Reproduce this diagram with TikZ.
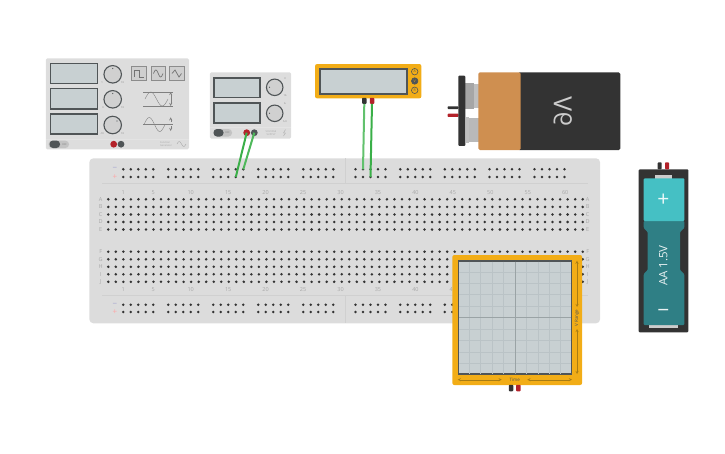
\documentclass[tikz,border=0pt]{standalone}
\usepackage{fontspec}
\setmainfont{Open Sans}
\definecolor{boardgrey}{HTML}{DCDCDC}
\definecolor{boardline}{HTML}{D0D0D0}
\definecolor{labelgrey}{HTML}{A8A8A8}
\definecolor{panelgrey}{HTML}{DDDDDD}
\definecolor{screengrey}{HTML}{C8D0D2}
\definecolor{framedark}{HTML}{505557}
\definecolor{meterorange}{HTML}{F2AD17}
\definecolor{scopeink}{HTML}{A87C14}
\definecolor{gridgrey}{HTML}{BAC3C6}
\definecolor{gridcentre}{HTML}{9AA3A5}
\definecolor{wiregreen}{HTML}{3AAF48}
\definecolor{wirelight}{HTML}{62C16D}
\definecolor{leadred}{HTML}{B3222A}
\definecolor{darkbody}{HTML}{333333}
\definecolor{copper}{HTML}{CF8F50}
\definecolor{cellbright}{HTML}{45C0C4}
\definecolor{celldark}{HTML}{2F7F85}
\tikzstyle{every node}=[inner sep=0pt,outer sep=0pt]
\tikzstyle{hole}=[circle,fill=darkbody,minimum size=2.8pt]
\tikzstyle{boardlabel}=[text=labelgrey,font=\fontsize{5.5}{5.5}\selectfont]
\tikzstyle{panel}=[rectangle,fill=panelgrey,rounded corners=1.5pt]
\tikzstyle{screen}=[draw=framedark,%
                    fill=screengrey,%
                    rectangle,%
                    line width=1.6pt]
\tikzstyle{knob}=[draw=framedark,fill=boardline,circle,line width=1.1pt,minimum size=17.5pt]
\tikzstyle{wavebutton}=[draw=gray!90,fill=gray!38,rectangle,minimum size=14.5pt,line width=.6pt]
\tikzstyle{wave}=[draw=gray!90!black,line width=.7pt]
\tikzstyle{thin wave}=[draw=gray,line width=.4pt]
\tikzstyle{tinylabel}=[text=gray,font=\fontsize{2.5}{3}\selectfont]
\tikzstyle{terminal}=[circle,minimum size=6.8pt]
\tikzstyle{lead}=[rectangle,rounded corners=.8pt,minimum width=4.5pt,minimum height=6pt]
\tikzstyle{wire}=[draw=wiregreen,line width=2pt]
\tikzstyle{orangebody}=[rectangle,fill=meterorange,rounded corners=2pt]
\tikzstyle{meterbutton}=[circle,draw=framedark,line width=.6pt,minimum size=6.5pt,font=\fontsize{3.5}{4}\selectfont]
\tikzstyle{scopeaxis}=[draw=scopeink,line width=.4pt,<->,>=stealth]
\begin{document}
\begin{tikzpicture}[x=1pt,y=-1pt]
  \useasboundingbox (0,0) rectangle (725,453);
  % breadboard
  \node[rectangle,fill=boardgrey,rounded corners=4pt,minimum width=510.7pt,minimum height=165pt] (board) at (344.7,240.8) {};
  \draw[boardline] (102,183.3) -- (588,183.3);
  \draw[boardline] (102,295.3) -- (588,295.3);
  \draw[boardline] (345,158.3) -- (345,183.3);
  \draw[boardline] (345,295.3) -- (345,323.3);
  \foreach \lab/\yy in {A/199.3,B/206.9,C/214.5,D/222,E/229.5,F/251.7,G/259.3,H/266.8,I/274.3,J/281.8}{
    \node[boardlabel] at (100.7,\yy) {\lab};
    \node[boardlabel] at (587.7,\yy) {\lab};
    \foreach \c in {0,...,63}
      \node[hole] at (108.3+\c*7.53,\yy) {};
  }
  \foreach \n in {1,5,10,15,20,25,30,35,40,45,50,55,60}{
    \node[boardlabel] at (115.8+\n*7.49,192.7) {\n};
    \node[boardlabel] at (115.8+\n*7.49,290) {\n};
  }
  \foreach \gx [count=\g] in {123.3,168.3,213.3,258.3,303.3,355.5,400.3,444.8,489.5,534.5}
    \foreach \i in {0,...,4}{
      \node[hole] (railtopa-\g-\i) at (\gx+\i*7.5,169.3) {};
      \node[hole] (railtopb-\g-\i) at (\gx+\i*7.5,177) {};
      \node[hole] (railbota-\g-\i) at (\gx+\i*7.5,304.7) {};
      \node[hole] (railbotb-\g-\i) at (\gx+\i*7.5,312) {};
    }
  \node[text=blue!25!labelgrey!70!white,font=\fontsize{8}{8}\selectfont] at (115,169.3) {−};
  \node[text=red!35!white,font=\fontsize{8}{8}\selectfont] at (115,177) {+};
  \node[text=blue!25!labelgrey!70!white,font=\fontsize{8}{8}\selectfont] at (115,304.7) {−};
  \node[text=red!35!white,font=\fontsize{8}{8}\selectfont] at (115,312) {+};
  % function generator
  \node[panel,minimum width=143.3pt,minimum height=91pt] (gen) at (117.4,103.8) {};
  \draw[boardline!60!white] (46,139) -- (189,139);
  \node[screen,minimum width=47pt,minimum height=20.3pt] (genscreena) at (74,73.5) {};
  \node[screen,minimum width=47pt,minimum height=20.3pt] (genscreenb) at (74,98.8) {};
  \node[screen,minimum width=47pt,minimum height=20.3pt] (genscreenc) at (74,124) {};
  \node[knob] (genknoba) at (112.7,74.3) {};
  \node[knob] (genknobb) at (112.7,99.3) {};
  \node[knob] (genknobc) at (112.7,125) {};
  \fill[framedark] (112.7,68.5) circle (.6);
  \fill[framedark] (112.7,93.5) circle (.6);
  \fill[framedark] (117,121) circle (.6);
  \node[tinylabel] at (102,82.5) {1};
  \node[tinylabel] at (122.5,82.5) {10};
  \node[tinylabel] at (103,107.5) {0};
  \node[tinylabel] at (122.5,107.5) {10};
  \node[tinylabel] at (102,133.5) {-10};
  \node[tinylabel] at (122.5,133.5) {10};
  \node[wavebutton] (btnsquare) at (139,73.5) {};
  \node[wavebutton] (btnsine) at (158.3,73.5) {};
  \node[wavebutton] (btntri) at (176.7,73.5) {};
  \draw[wave] (134.5,76.5) -- (134.5,70) -- (139,70) -- (139,77) -- (143.5,77);
  \draw[wave] plot[smooth,domain=0:360,samples=17] ({153.5+\x/360*9.5},{73.5-sin(\x)*3.5});
  \draw[wave] (172,73.5) -- (175,70) -- (179,77) -- (181.5,73.5);
  \draw[thin wave] (143.3,91.7) -- (173.3,91.7);
  \draw[thin wave] (143.3,106) -- (173.3,106);
  \draw[thin wave] plot[smooth,domain=0:360,samples=25] ({145+\x/360*23},{99-sin(\x)*7});
  \draw[thin wave,<->,>=stealth] (170.7,92) -- (170.7,106);
  \draw[thin wave] (143.3,124) -- (173,124);
  \draw[thin wave] plot[smooth,domain=0:360,samples=25] ({144+\x/360*21},{124.5-sin(\x)*7});
  \draw[thin wave,->,>=stealth] (170.7,122) -- (170.7,117.3);
  \draw[thin wave,->,>=stealth] (170.7,126) -- (170.7,131);
  \fill[labelgrey!50!panelgrey,rounded corners=3.5pt] (48.5,140.7) rectangle (69,148);
  \fill[framedark,rounded corners=3.5pt] (49.5,140.5) rectangle (60,148);
  \node[tinylabel] at (64.5,144.3) {OFF};
  \node[terminal,fill=leadred] (genplus) at (113.7,144.2) {};
  \node[terminal,fill=framedark] (genminus) at (121,144.2) {};
  \node[text=labelgrey,font=\fontsize{2.5}{3}\selectfont,align=left] at (166,144) {Function\\Generator};
  \draw[labelgrey,line width=.4pt] plot[smooth,domain=0:360,samples=13] ({177+\x/360*9},{144-sin(\x)*2.5});
  % power supply
  \node[panel,minimum width=81.3pt,minimum height=66.4pt] (supply) at (250.4,105.5) {};
  \draw[boardline!60!white] (210,126.7) -- (291,126.7);
  \node[screen,minimum width=46pt,minimum height=19.7pt] (supplyscreena) at (237.2,87.7) {};
  \node[screen,minimum width=46pt,minimum height=19.7pt] (supplyscreenb) at (237.2,112.9) {};
  \node[knob,minimum size=16.5pt] (supplyknoba) at (274.7,87.3) {};
  \node[knob,minimum size=16.5pt] (supplyknobb) at (274.7,113.3) {};
  \fill[framedark] (269.5,87.3) circle (.6);
  \fill[framedark] (269.5,113.3) circle (.6);
  \node[tinylabel] at (285,78.5) {V};
  \node[tinylabel] at (285,95.5) {16};
  \node[tinylabel] at (285,103.5) {A};
  \node[tinylabel] at (285,122) {5.0};
  \fill[labelgrey!50!panelgrey,rounded corners=3.5pt] (213.5,129) rectangle (232,136.5);
  \fill[framedark,rounded corners=3.5pt] (213.5,129) rectangle (223.5,136.5);
  \node[tinylabel] at (227.5,132.8) {OFF};
  \node[terminal,fill=leadred] (supplyplus) at (246.7,132.7) {};
  \node[terminal,fill=framedark] (supplyminus) at (254.3,132.7) {};
  \node[text=labelgrey,font=\fontsize{2.5}{3}\selectfont,align=center] at (271,132.7) {VOLTAGE\\SUPPLY};
  \draw[labelgrey,line width=.4pt] (285.5,129.5) -- (283.5,133) -- (285.5,133) -- (283.5,136);
  \draw[wire] (supplyplus.center) -- (railtopb-3-3.center);
  \draw[wire,draw=wirelight!50!wiregreen] (supplyminus.center) -- (railtopa-3-4.center);
  % multimeter
  \node[orangebody,minimum width=106.3pt,minimum height=34.3pt] (meter) at (368.2,81.2) {};
  \node[screen,minimum width=87.5pt,minimum height=25pt] (meterscreen) at (363.5,81.3) {};
  \node[meterbutton,fill=meterorange,text=framedark] (meterA) at (414.7,71.7) {A};
  \node[meterbutton,fill=framedark,text=meterorange] (meterV) at (414.7,81) {V};
  \node[meterbutton,fill=meterorange,text=framedark] (meterR) at (414.7,90.3) {R};
  \node[lead,fill=darkbody] (meterblack) at (364.3,100.8) {};
  \node[lead,fill=leadred] (meterred) at (372,100.8) {};
  \draw[wire,draw=wirelight] (meterblack.south) -- (railtopa-6-1.center);
  \draw[wire] (meterred.south) -- (railtopb-6-2.center);
  % 9v battery
  \fill[gray!70] (465,82.7) rectangle (474,109);
  \fill[gray!50] (474,84) rectangle (479,107.5);
  \fill[gray!50] (466,116.7) rectangle (469,142.7);
  \fill[gray!55] (469,118) rectangle (479,141.5);
  \node[lead,fill=darkbody,minimum width=11pt,minimum height=2.6pt] (clipblack) at (453,107.7) {};
  \node[lead,fill=leadred,minimum width=11pt,minimum height=3.2pt] (clipred) at (453,115.3) {};
  \node[rectangle,fill=darkbody,rounded corners=1pt,minimum width=7pt,minimum height=70.3pt] (clip) at (461.8,110.8) {};
  \node[rectangle,fill=darkbody,rounded corners=1.5pt,minimum width=102.3pt,minimum height=77.7pt] (bodyside) at (569.15,111.2) {};
  \node[rectangle,fill=copper,rounded corners=1.5pt,minimum width=42.4pt,minimum height=77.7pt] (capside) at (499.5,111.2) {};
  \node[rotate=90,yscale=-1,text=gray!40!white,font=\fontsize{25}{25}\selectfont] (ninevolt) at (562.7,111.5) {9V};
  % oscilloscope
  \node[orangebody,minimum width=129.7pt,minimum height=130pt] (scope) at (517.2,320) {};
  \node[screen,minimum width=113pt,minimum height=113pt] (scopescreen) at (514.9,317.5) {};
  \foreach \i in {-4,...,4}{
    \draw[gridgrey,line width=.4pt] (514.9+\i*11.43,261.5) -- (514.9+\i*11.43,373.5);
    \draw[gridgrey,line width=.4pt] (458.9,317.5+\i*11.43) -- (570.9,317.5+\i*11.43);
  }
  \draw[gridcentre,line width=.6pt] (514.9,261.5) -- (514.9,373.5);
  \draw[gridcentre,line width=.6pt] (458.9,317.5) -- (570.9,317.5);
  \node[text=framedark,font=\fontsize{4.5}{4.5}\selectfont] (timelabel) at (514.7,379.7) {Time};
  \node[rotate=90,text=framedark,font=\fontsize{4.5}{4.5}\selectfont] (rangelabel) at (577,318) {V Range};
  \draw[scopeaxis] (457.7,379.7) -- (501.7,379.7);
  \draw[scopeaxis] (527.3,379.7) -- (572,379.7);
  \draw[scopeaxis] (577,260.7) -- (577,307);
  \draw[scopeaxis] (577,329) -- (577,374);
  \node[lead,fill=darkbody,minimum height=6.5pt] (scopeblack) at (511,388) {};
  \node[lead,fill=leadred,minimum height=6.5pt] (scopered) at (518.3,388) {};
  % aa battery
  \node[rectangle,fill=darkbody,rounded corners=1pt,minimum width=49.6pt,minimum height=163pt] (holder) at (663.5,250.8) {};
  \node[lead,fill=darkbody,minimum width=4pt,minimum height=7pt] (holderblack) at (659.7,165.8) {};
  \node[lead,fill=leadred,minimum width=4pt,minimum height=7pt] (holderred) at (667,165.8) {};
  \fill[gray!40] (655,175) rectangle (671.7,178.5);
  \fill[gray!40] (649.3,325) rectangle (678.3,328);
  \fill[celldark,rounded corners=1pt] (643.7,221) -- (684.3,221) -- (684.3,228) -- (680,232) -- (680,270) -- (684.3,274) -- (684.3,325) -- (643.7,325) -- (643.7,274) -- (647.7,270) -- (647.7,232) -- (643.7,228) -- cycle;
  \fill[cellbright,rounded corners=1pt] (643.7,221) -- (643.7,178.3) -- (684.3,178.3) -- (684.3,221) -- cycle;
  \node[text=white!90!cellbright,font=\fontsize{21}{21}\selectfont] (cellplus) at (663.3,200.5) {+};
  \node[rotate=90,text=white!90!celldark,font=\fontsize{11.5}{12}\selectfont] (celltext) at (663.3,265.5) {AA 1.5V};
  \node[text=white!90!celldark,font=\fontsize{21}{21}\selectfont] (cellminus) at (663.3,313.5) {−};
\end{tikzpicture}
\end{document}
